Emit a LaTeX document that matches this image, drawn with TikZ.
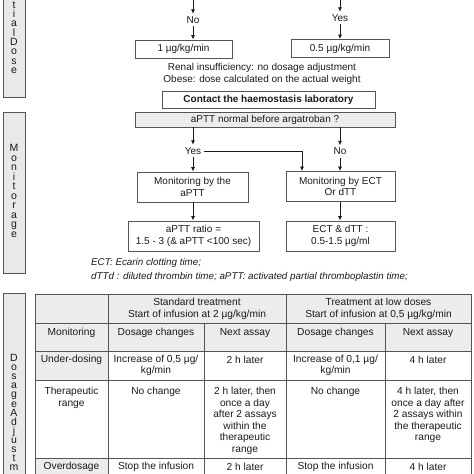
\documentclass[tikz,border=0pt]{standalone}
\usepackage{fontspec}
\setmainfont{Liberation Sans}
\usetikzlibrary{arrows.meta}
\definecolor{edge}{HTML}{555555}
\definecolor{bargray}{HTML}{E9E9E9}
\definecolor{cellgray}{HTML}{ECECEC}
\definecolor{ink}{HTML}{1A1A1A}
\newcommand{\tightlines}{\lineskiplimit=-100pt\relax\lineskip=0pt\relax}
\begin{document}
\begin{tikzpicture}[x=1pt,y=-1pt,
  txt/.style={font=\fontsize{10}{11.5}\selectfont,text=ink,align=center,inner sep=0pt},
  box/.style={draw=edge,line width=0.9pt,fill=white,inner sep=0pt,font=\fontsize{10}{11.8}\selectfont,text=ink,align=center},
  graybox/.style={box,fill=cellgray},
  lab/.style={txt,inner sep=2.5pt},
  arr/.style={-{Latex[length=4.5pt,width=4pt]},line width=0.75pt,draw=ink},
  conn/.style={line width=0.75pt,draw=ink},
  sidebar/.style={draw=edge,line width=0.9pt,fill=bargray},
  barl/.style={text=ink,inner sep=0pt,align=center},
  cell/.style={font=\fontsize{10.2}{11.6}\selectfont,text=ink,align=center,inner sep=0pt},
  tline/.style={draw=edge,line width=0.9pt}]
\useasboundingbox (0,0) rectangle (474,474);
\clip (0,0) rectangle (474,474);

% side bars
\draw[sidebar] (3,-10) rectangle (25,97);
\draw[sidebar] (3,112) rectangle (25,273);
\draw[sidebar] (3,293) rectangle (25,490);
\node[barl,font=\fontsize{10.5}{9.3}\selectfont] (bar1) at (14,37.5)
  {\tightlines t\\i\\a\\l\\D\\o\\s\\e};
\node[barl,font=\fontsize{10.5}{9.55}\selectfont] (bar2) at (14,191)
  {\tightlines M\\o\\n\\i\\t\\o\\r\\a\\g\\e};
\node[barl,font=\fontsize{10.5}{9.08}\selectfont] (bar3) at (14,412.5)
  {\tightlines D\\o\\s\\a\\g\\e\\A\\d\\j\\u\\s\\t\\m};

% top flow
\coordinate (topL) at (193,-4);
\coordinate (topR) at (340,-4);
\node[lab] (no1) at (193,20) {No};
\node[lab] (yes1) at (340,18) {Yes};
\node[box,minimum width=97pt,minimum height=18pt] (b1) at (183.5,49) {1 µg/kg/min};
\node[box,minimum width=98pt,minimum height=18pt] (b2) at (340,48.5) {0.5 µg/kg/min};
\draw[arr] (topL) -- (no1);
\draw[arr] (topR) -- (yes1);
\draw[arr] (no1) -- (no1 |- b1.north);
\draw[arr] (yes1) -- (b2);

\node[txt] (renal) at (262,74) {Renal insufficiency: no dosage adjustment\\Obese: dose calculated on the actual weight};
\node[box,minimum width=213pt,minimum height=17pt,font=\fontsize{10}{11.5}\selectfont\bfseries] (contact) at (268.5,99.5) {Contact the haemostasis laboratory};
\node[graybox,minimum width=260pt,minimum height=15pt] (q) at (265,119.5) {aPTT normal before argatroban ?};

\node[lab] (yes2) at (193,151) {Yes};
\node[lab] (no2) at (340,151.5) {No};
\node[box,minimum width=111pt,minimum height=30pt] (m1) at (192.5,187) {Monitoring by the\\aPTT};
\node[box,minimum width=109pt,minimum height=30pt] (m2) at (340.5,186.5) {Monitoring by ECT\\Or dTT};
\node[box,minimum width=131pt,minimum height=30pt] (r1) at (193.5,236) {aPTT ratio =\\1.5 - 3 (\& aPTT <100 sec)};
\node[box,minimum width=109pt,minimum height=30pt] (r2) at (340.5,236) {ECT \& dTT :\\0.5-1.5 µg/ml};

\draw[arr] (q.south -| yes2) -- (yes2);
\draw[arr] (yes2) -- (yes2 |- m1.north);
\coordinate (elbow) at (302,151);
\draw[conn] (yes2.east) -- (elbow);
\draw[arr] (elbow) -- (elbow |- m2.north);
\draw[arr] (q.south -| no2) -- (no2);
\draw[arr] (no2) -- (no2 |- m2.north);
\draw[arr] (m1.south -| yes2) -- (yes2 |- r1.north);
\draw[arr] (m2.south -| no2) -- (no2 |- r2.north);

\node[txt,anchor=west,font=\fontsize{9.8}{11.5}\selectfont\itshape] (leg1) at (91,263) {ECT: Ecarin clotting time;};
\node[txt,anchor=west,font=\fontsize{9.8}{11.5}\selectfont\itshape] (leg2) at (91,277) {dTTd : diluted thrombin time; aPTT: activated partial thromboplastin time;};

% table
\fill[cellgray] (35,294) rectangle (471,351);
\fill[cellgray] (35,351) rectangle (108,380);
\fill[cellgray] (35,458) rectangle (108,490);
\draw[tline] (35,294) rectangle (471,490);
\foreach \y in {323,351,380,458} \draw[tline] (35,\y) -- (471,\y);
\draw[tline] (108,294) -- (108,490);
\draw[tline] (286,294) -- (286,490);
\draw[tline] (204,323) -- (204,490);
\draw[tline] (385,323) -- (385,490);

\node[cell] (h1) at (197,309) {Standard treatment\\Start of infusion at 2 µg/kg/min};
\node[cell] (h2) at (378.5,309) {Treatment at low doses\\Start of infusion at 0,5 µg/kg/min};

\node[cell] (c21) at (71.5,333) {Monitoring};
\node[cell] (c22) at (156,333) {Dosage changes};
\node[cell] (c23) at (245,333) {Next assay};
\node[cell] (c24) at (335.5,333) {Dosage changes};
\node[cell] (c25) at (428,333) {Next assay};

\node[cell] (c31) at (71.5,360) {Under-dosing};
\node[cell] (c32) at (156,365.5) {Increase of 0,5 µg/\\kg/min};
\node[cell] (c33) at (245,360) {2 h later};
\node[cell] (c34) at (335.5,365.5) {Increase of 0,1 µg/\\kg/min};
\node[cell] (c35) at (428,360) {4 h later};

\node[cell,anchor=north] (c41) at (71.5,387) {Therapeutic\\range};
\node[cell,anchor=north] (c42) at (156,387) {No change};
\node[cell,anchor=north] (c43) at (245,387) {2 h later, then\\once a day\\after 2 assays\\within the\\therapeutic\\range};
\node[cell,anchor=north] (c44) at (335.5,387) {No change};
\node[cell,anchor=north] (c45) at (428,387) {4 h later, then\\once a day after\\2 assays within\\the therapeutic\\range};

\node[cell] (c51) at (71.5,467) {Overdosage};
\node[cell] (c52) at (156,467) {Stop the infusion};
\node[cell] (c53) at (245,467) {2 h later};
\node[cell] (c54) at (335.5,467) {Stop the infusion};
\node[cell] (c55) at (428,467) {4 h later};
\end{tikzpicture}
\end{document}
